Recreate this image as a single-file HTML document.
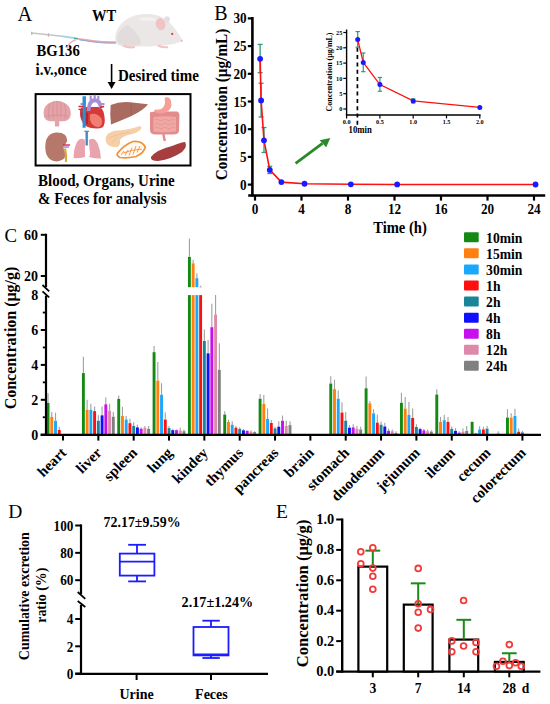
<!DOCTYPE html>
<html><head><meta charset="utf-8"><style>
html,body{margin:0;padding:0;background:#fff;}
svg{display:block;}
</style></head><body>
<svg width="550" height="704" viewBox="0 0 550 704" font-family="Liberation Serif">
<rect width="550" height="704" fill="#fff"/>
<text x="17.40" y="20.70" font-family="Liberation Serif" font-size="20.5" font-weight="normal" text-anchor="start" fill="#000" >A</text>
<text x="214.30" y="19.60" font-family="Liberation Serif" font-size="20" font-weight="normal" text-anchor="start" fill="#000" >B</text>
<text x="4.60" y="241.60" font-family="Liberation Serif" font-size="18.8" font-weight="normal" text-anchor="start" fill="#000" >C</text>
<text x="8.20" y="517.90" font-family="Liberation Serif" font-size="19.5" font-weight="normal" text-anchor="start" fill="#000" >D</text>
<text x="276.00" y="517.80" font-family="Liberation Serif" font-size="19.5" font-weight="normal" text-anchor="start" fill="#000" >E</text>
<text transform="translate(92.00,20.50) scale(1,1.08)" font-family="Liberation Serif" font-size="14.5" font-weight="bold" text-anchor="start" fill="#000" >WT</text>
<text transform="translate(36.50,56.30) scale(1,1.08)" font-family="Liberation Serif" font-size="14.7" font-weight="bold" text-anchor="start" fill="#000" >BG136</text>
<text transform="translate(35.50,74.50) scale(1,1.08)" font-family="Liberation Serif" font-size="15" font-weight="bold" text-anchor="start" fill="#000" >i.v.,once</text>
<text transform="translate(118.00,81.00) scale(1,1.08)" font-family="Liberation Serif" font-size="15" font-weight="bold" text-anchor="start" fill="#000" >Desired time</text>
<line x1="111.60" y1="64.00" x2="111.60" y2="83.00" stroke="#000" stroke-width="1.6" />
<path d="M107.6,82 L115.6,82 L111.6,89 Z" fill="#000"/>
<rect x="35.6" y="94.1" width="154.9" height="71.4" fill="none" stroke="#000" stroke-width="2"/>
<text transform="translate(38.10,186.00) scale(1,1.08)" font-family="Liberation Serif" font-size="15" font-weight="bold" text-anchor="start" fill="#000" >Blood, Organs, Urine</text>
<text transform="translate(38.10,204.40) scale(1,1.08)" font-family="Liberation Serif" font-size="15" font-weight="bold" text-anchor="start" fill="#000" >&amp; Feces for analysis</text>
<path d="M32,33 L62,36.3" stroke="#c4c4c4" stroke-width="1.6" stroke-linecap="round"/>
<line x1="31.60" y1="31.80" x2="31.90" y2="35.00" stroke="#b8b8b8" stroke-width="1.3" />
<line x1="48.60" y1="33.20" x2="48.40" y2="36.80" stroke="#b8b8b8" stroke-width="1.3" />
<path d="M62,36.3 L74,38.1" stroke="#a8d6e8" stroke-width="2.0"/>
<path d="M74,38.1 L78,38.7" stroke="#40b0a0" stroke-width="1.6"/>
<path d="M78,39 L95,41.2 Q105,42.6 116,42.2" stroke="#eaa8a8" stroke-width="1.9" fill="none"/>
<path d="M80,39.9 L95,42.2 Q105,43.5 116,43.1" stroke="#8aa0d8" stroke-width="0.9" fill="none"/>
<path d="M76,39.8 Q68.5,42 67.2,48.5" stroke="#ecb4b4" stroke-width="1.5" fill="none"/>
<path d="M116,43 C113,33 120,20 135,15.5 C146,12.5 158,14 165,19 C171,23 176,30 180,36 C182,39 183,40.5 181.5,41.5 C177,43.5 170,44.5 164,45.5 L150,46.5 L128,46.5 C120,46.5 117,45 116,43 Z" fill="#ebe7e7"/>
<path d="M117,42 C116,34 121,27 128,25 C134,30 140,36 141,44 C136,46.5 124,46.5 117,42 Z" fill="#e2dcdc"/>
<path d="M138,19 C146,16 156,17 160,22 C150,20 144,22 138,19 Z" fill="#f3f0f0"/>
<ellipse cx="167" cy="19.5" rx="2.8" ry="3.3" fill="#e4dfdf"/>
<ellipse cx="160.6" cy="24.2" rx="4.8" ry="6.2" transform="rotate(-15 160.6 24.2)" fill="#f0c4c4"/>
<circle cx="172.2" cy="33.9" r="1.1" fill="#e03a3a"/>
<path d="M123,45.5 Q128,48 135,47" stroke="#f2c4c4" stroke-width="2.2" fill="none"/>
<path d="M158,45.5 Q163,48 168,47" stroke="#f2c4c4" stroke-width="2" fill="none"/>
<circle cx="181.8" cy="40.8" r="1" fill="#f0b0b0"/>
<path d="M43.6,114 Q43,102.5 57,100.8 Q71,102.5 70.8,114 Q70.5,120.5 64,121.2 L59.2,121.2 L59.2,126.4 L54.9,126.4 L54.9,121.2 L50,121.2 Q43.8,120.5 43.6,114 Z" fill="#e3a3a8"/>
<path d="M50,103 Q47,111 49,119 M53.5,101.5 Q52,110 53.5,118 M57,101 L57,117 M60.5,101.5 Q62,110 60.5,118 M64,103 Q67,111 65,119 M46,116 Q57,114 68,116" stroke="#d28c94" stroke-width="0.7" fill="none"/>
<path d="M80,112 Q79.5,107.5 84,107 L100,107 Q104.5,110 104.8,120 Q105,127.5 100,128.3 Q90,129 85,125.5 Q79.5,120 80,112 Z" fill="#d63a38"/>
<path d="M90,114.5 Q96.5,112 101.5,118.5 Q103.5,125.5 98.5,127.3 Q92,126.5 90,120 Z" fill="#f07e72"/>
<path d="M81,113 Q84,109.5 88,113 L88,124.5 Q82,122 81,113 Z" fill="#b52628"/>
<path d="M86.8,111 Q87,98.5 95,98.3 Q102.5,99 102.2,108 L99,108.5 Q98.3,102.3 95,102.3 Q90.8,102.5 90.4,111 Z" fill="#a78fd8"/>
<rect x="89.6" y="95.5" width="2.2" height="5" fill="#a78fd8"/><rect x="93.6" y="94.8" width="2.2" height="5" fill="#a78fd8"/><rect x="97.2" y="95.8" width="2.2" height="5" fill="#a78fd8"/><rect x="99.5" y="103" width="5" height="2.2" fill="#a78fd8"/><rect x="80.5" y="103" width="4" height="2" fill="#a78fd8"/>
<path d="M82.5,96.3 L86,96.3 L85.6,127.8 L82.6,127.8 Z" fill="#2d8fd5"/>
<path d="M78.5,106.5 L83,106.5 M78.5,109.3 L83,109.3 M100,107.5 L104,106.5" stroke="#e02222" stroke-width="1.3"/>
<path d="M110.6,105 Q120,101.3 130,102.3 L148,104.2 Q144,110 130.4,116.5 Q120,121 111,124.4 Q109.8,115 110.6,105 Z" fill="#a96a60"/>
<path d="M131,103 L131.5,116" stroke="#955a52" stroke-width="0.5"/>
<path d="M149.9,113 Q150,111.5 155,111.5 L177,111.5 Q179.4,112 179.4,115 L179,131 Q178.5,134.6 173,134.6 L156,134.6 Q150,134.5 150,130 Z" fill="#e28c8e"/>
<path d="M153.5,117 Q164,115.5 176,117 L176,131.5 Q164,133 153.5,131.5 Z" fill="#efa8a4"/>
<path d="M155,120 q2,-2 4,0 t4,0 t4,0 t4,0 t4,0 M155,124 q2,-2 4,0 t4,0 t4,0 t4,0 t4,0 M155,128 q2,-2 4,0 t4,0 t4,0 t4,0 t4,0" stroke="#e2908e" stroke-width="0.7" fill="none"/>
<path d="M165.5,97.3 Q170,96.5 171,101 Q173,109 166,112.5 Q160,114.5 154.5,112 Q153.5,110 155.5,109.5 Q161,110.5 163.5,107 Q166,103 164.5,99 Z" fill="#f4a096"/>
<path d="M163.3,134 L164.8,141" stroke="#e28c8e" stroke-width="2.4"/>
<path d="M56,132.5 Q67.5,132 67.2,141 Q66,144 63.5,146 Q63,149 65,152 Q67.5,160 56.5,161.5 Q45.3,160.5 45.3,147 Q45.3,133.5 56,132.5 Z" fill="#b5786a"/>
<path d="M63,145 L70.1,145" stroke="#e0283a" stroke-width="1.4"/><path d="M63.5,147 L69,147" stroke="#8a70d0" stroke-width="1.2"/><path d="M65,148.5 Q66.5,155 66,161.8" stroke="#d8a840" stroke-width="2.2" fill="none"/>
<path d="M84.9,140 Q80,136.5 76.5,143 Q73.2,151 73.7,158 Q78,158.7 85,157 Z" fill="#e9a3ad"/>
<path d="M89,140 Q94,136.5 97.5,143 Q100.9,151 100.9,158.5 Q96,158.7 89,157 Q91,153 89.5,150 Z" fill="#e9a3ad"/>
<path d="M85.5,131.3 L87.9,131.3 L87.9,145.5 L85.5,145.5 Z" fill="#4a86c6"/><path d="M84.3,131.3 L89.1,131.3" stroke="#4a86c6" stroke-width="1.2"/>
<path d="M105.8,137 Q108,131 118,130.5 Q130,129.5 138,126.5 Q142.5,125.5 141,129 Q138,133 128,135 Q122,137 120,140 Q120.5,146 117,147 Q109,147.5 106.5,143 Q105.2,140 105.8,137 Z" fill="#f5cfa8"/>
<path d="M108,138 Q118,134 130,132 M112,143 Q114,139 118,137" stroke="#eab88e" stroke-width="0.6" fill="none"/>
<path d="M117.4,153.2 Q124,145 133,141.5 Q142,140.5 145.3,147 Q144,153 136,156.5 Q127,158.5 120,157.5 Q116.5,156 117.4,153.2 Z" fill="#fffaf4" stroke="#f0923a" stroke-width="1.7"/>
<path d="M121,155 L124,151 M125,155.5 L128,150 M129,155.5 L132,147.5 M133,154.5 L136,146 M137,152.5 L140,146 M123,153 Q131,150 142,149" stroke="#f0923a" stroke-width="0.9" fill="none"/>
<path d="M151,157 Q156,150 172,146 Q182,142 185,142 Q188,146 182,152 Q172,159 158,161 Q150,161 151,157 Z" fill="#a63d3e"/>
<line x1="252.40" y1="17.00" x2="252.40" y2="196.50" stroke="#000" stroke-width="2.6" />
<line x1="247.80" y1="184.60" x2="252.40" y2="184.60" stroke="#000" stroke-width="2.2" />
<text transform="translate(246.60,189.60) scale(1,1.12)" font-family="Liberation Serif" font-size="13.2" font-weight="bold" text-anchor="end" fill="#000" >0</text>
<line x1="247.80" y1="156.90" x2="252.40" y2="156.90" stroke="#000" stroke-width="2.2" />
<text transform="translate(246.60,161.90) scale(1,1.12)" font-family="Liberation Serif" font-size="13.2" font-weight="bold" text-anchor="end" fill="#000" >5</text>
<line x1="247.80" y1="129.20" x2="252.40" y2="129.20" stroke="#000" stroke-width="2.2" />
<text transform="translate(246.60,134.20) scale(1,1.12)" font-family="Liberation Serif" font-size="13.2" font-weight="bold" text-anchor="end" fill="#000" >10</text>
<line x1="247.80" y1="101.50" x2="252.40" y2="101.50" stroke="#000" stroke-width="2.2" />
<text transform="translate(246.60,106.50) scale(1,1.12)" font-family="Liberation Serif" font-size="13.2" font-weight="bold" text-anchor="end" fill="#000" >15</text>
<line x1="247.80" y1="73.80" x2="252.40" y2="73.80" stroke="#000" stroke-width="2.2" />
<text transform="translate(246.60,78.80) scale(1,1.12)" font-family="Liberation Serif" font-size="13.2" font-weight="bold" text-anchor="end" fill="#000" >20</text>
<line x1="247.80" y1="46.10" x2="252.40" y2="46.10" stroke="#000" stroke-width="2.2" />
<text transform="translate(246.60,51.10) scale(1,1.12)" font-family="Liberation Serif" font-size="13.2" font-weight="bold" text-anchor="end" fill="#000" >25</text>
<line x1="247.80" y1="18.40" x2="252.40" y2="18.40" stroke="#000" stroke-width="2.2" />
<text transform="translate(246.60,23.40) scale(1,1.12)" font-family="Liberation Serif" font-size="13.2" font-weight="bold" text-anchor="end" fill="#000" >30</text>
<line x1="248.20" y1="195.50" x2="545.20" y2="195.50" stroke="#000" stroke-width="2.6" />
<line x1="255.00" y1="195.50" x2="255.00" y2="200.60" stroke="#000" stroke-width="2.2" />
<text transform="translate(255.00,214.40) scale(1,1.12)" font-family="Liberation Serif" font-size="13.2" font-weight="bold" text-anchor="middle" fill="#000" >0</text>
<line x1="301.50" y1="195.50" x2="301.50" y2="200.60" stroke="#000" stroke-width="2.2" />
<text transform="translate(301.50,214.40) scale(1,1.12)" font-family="Liberation Serif" font-size="13.2" font-weight="bold" text-anchor="middle" fill="#000" >4</text>
<line x1="348.00" y1="195.50" x2="348.00" y2="200.60" stroke="#000" stroke-width="2.2" />
<text transform="translate(348.00,214.40) scale(1,1.12)" font-family="Liberation Serif" font-size="13.2" font-weight="bold" text-anchor="middle" fill="#000" >8</text>
<line x1="394.50" y1="195.50" x2="394.50" y2="200.60" stroke="#000" stroke-width="2.2" />
<text transform="translate(394.50,214.40) scale(1,1.12)" font-family="Liberation Serif" font-size="13.2" font-weight="bold" text-anchor="middle" fill="#000" >12</text>
<line x1="441.00" y1="195.50" x2="441.00" y2="200.60" stroke="#000" stroke-width="2.2" />
<text transform="translate(441.00,214.40) scale(1,1.12)" font-family="Liberation Serif" font-size="13.2" font-weight="bold" text-anchor="middle" fill="#000" >16</text>
<line x1="487.50" y1="195.50" x2="487.50" y2="200.60" stroke="#000" stroke-width="2.2" />
<text transform="translate(487.50,214.40) scale(1,1.12)" font-family="Liberation Serif" font-size="13.2" font-weight="bold" text-anchor="middle" fill="#000" >20</text>
<line x1="534.00" y1="195.50" x2="534.00" y2="200.60" stroke="#000" stroke-width="2.2" />
<text transform="translate(534.00,214.40) scale(1,1.12)" font-family="Liberation Serif" font-size="13.2" font-weight="bold" text-anchor="middle" fill="#000" >24</text>
<text transform="translate(400.00,233.20) scale(1,1.08)" font-family="Liberation Serif" font-size="14.6" font-weight="bold" text-anchor="middle" fill="#000" >Time (h)</text>
<text transform="translate(227.2,104.4) rotate(-90)" font-family="Liberation Serif" font-size="16.2" font-weight="bold" text-anchor="middle" textLength="151.6" lengthAdjust="spacingAndGlyphs">Concentration (μg/mL)</text>
<line x1="260.13" y1="72.69" x2="260.13" y2="44.44" stroke="#2e9a80" stroke-width="1.3" />
<line x1="257.63" y1="72.69" x2="262.63" y2="72.69" stroke="#2e9a80" stroke-width="1.3" />
<line x1="257.63" y1="44.44" x2="262.63" y2="44.44" stroke="#2e9a80" stroke-width="1.3" />
<line x1="261.09" y1="117.01" x2="261.09" y2="83.22" stroke="#2e9a80" stroke-width="1.3" />
<line x1="258.59" y1="117.01" x2="263.59" y2="117.01" stroke="#2e9a80" stroke-width="1.3" />
<line x1="258.59" y1="83.22" x2="263.59" y2="83.22" stroke="#2e9a80" stroke-width="1.3" />
<line x1="263.99" y1="152.47" x2="263.99" y2="127.54" stroke="#2e9a80" stroke-width="1.3" />
<line x1="261.49" y1="152.47" x2="266.49" y2="152.47" stroke="#2e9a80" stroke-width="1.3" />
<line x1="261.49" y1="127.54" x2="266.49" y2="127.54" stroke="#2e9a80" stroke-width="1.3" />
<line x1="269.78" y1="173.52" x2="269.78" y2="166.32" stroke="#2e9a80" stroke-width="1.3" />
<line x1="267.28" y1="173.52" x2="272.28" y2="173.52" stroke="#2e9a80" stroke-width="1.3" />
<line x1="267.28" y1="166.32" x2="272.28" y2="166.32" stroke="#2e9a80" stroke-width="1.3" />
<path d="M260.13,58.84 L261.09,100.39 L263.99,140.28 L269.78,169.92 L281.36,182.11 L304.52,183.77 L350.84,184.32 L397.16,184.43 L535.54,184.49" stroke="#ff1010" stroke-width="1.6" fill="none"/>
<circle cx="260.13" cy="58.84" r="2.9" fill="#1a1aff"/>
<circle cx="261.09" cy="100.39" r="2.9" fill="#1a1aff"/>
<circle cx="263.99" cy="140.28" r="2.9" fill="#1a1aff"/>
<circle cx="269.78" cy="169.92" r="2.9" fill="#1a1aff"/>
<circle cx="281.36" cy="182.11" r="2.9" fill="#1a1aff"/>
<circle cx="304.52" cy="183.77" r="2.9" fill="#1a1aff"/>
<circle cx="350.84" cy="184.32" r="2.9" fill="#1a1aff"/>
<circle cx="397.16" cy="184.43" r="2.9" fill="#1a1aff"/>
<circle cx="535.54" cy="184.49" r="2.9" fill="#1a1aff"/>
<line x1="346.60" y1="29.50" x2="346.60" y2="115.60" stroke="#000" stroke-width="1.4" />
<line x1="343.30" y1="109.00" x2="346.60" y2="109.00" stroke="#000" stroke-width="1.2" />
<text transform="translate(342.30,111.20) scale(1,1.08)" font-family="Liberation Serif" font-size="6.2" font-weight="bold" text-anchor="end" fill="#000" >0</text>
<line x1="343.30" y1="93.70" x2="346.60" y2="93.70" stroke="#000" stroke-width="1.2" />
<text transform="translate(342.30,95.90) scale(1,1.08)" font-family="Liberation Serif" font-size="6.2" font-weight="bold" text-anchor="end" fill="#000" >5</text>
<line x1="343.30" y1="78.40" x2="346.60" y2="78.40" stroke="#000" stroke-width="1.2" />
<text transform="translate(342.30,80.60) scale(1,1.08)" font-family="Liberation Serif" font-size="6.2" font-weight="bold" text-anchor="end" fill="#000" >10</text>
<line x1="343.30" y1="63.10" x2="346.60" y2="63.10" stroke="#000" stroke-width="1.2" />
<text transform="translate(342.30,65.30) scale(1,1.08)" font-family="Liberation Serif" font-size="6.2" font-weight="bold" text-anchor="end" fill="#000" >15</text>
<line x1="343.30" y1="47.80" x2="346.60" y2="47.80" stroke="#000" stroke-width="1.2" />
<text transform="translate(342.30,50.00) scale(1,1.08)" font-family="Liberation Serif" font-size="6.2" font-weight="bold" text-anchor="end" fill="#000" >20</text>
<line x1="343.30" y1="32.50" x2="346.60" y2="32.50" stroke="#000" stroke-width="1.2" />
<text transform="translate(342.30,34.70) scale(1,1.08)" font-family="Liberation Serif" font-size="6.2" font-weight="bold" text-anchor="end" fill="#000" >25</text>
<line x1="345.90" y1="115.00" x2="480.60" y2="115.00" stroke="#000" stroke-width="1.4" />
<line x1="346.60" y1="115.20" x2="346.60" y2="118.40" stroke="#000" stroke-width="1.2" />
<text transform="translate(346.60,123.80) scale(1,1.08)" font-family="Liberation Serif" font-size="6.2" font-weight="bold" text-anchor="middle" fill="#000" >0.0</text>
<line x1="379.90" y1="115.20" x2="379.90" y2="118.40" stroke="#000" stroke-width="1.2" />
<text transform="translate(379.90,123.80) scale(1,1.08)" font-family="Liberation Serif" font-size="6.2" font-weight="bold" text-anchor="middle" fill="#000" >0.5</text>
<line x1="413.20" y1="115.20" x2="413.20" y2="118.40" stroke="#000" stroke-width="1.2" />
<text transform="translate(413.20,123.80) scale(1,1.08)" font-family="Liberation Serif" font-size="6.2" font-weight="bold" text-anchor="middle" fill="#000" >1.0</text>
<line x1="446.50" y1="115.20" x2="446.50" y2="118.40" stroke="#000" stroke-width="1.2" />
<text transform="translate(446.50,123.80) scale(1,1.08)" font-family="Liberation Serif" font-size="6.2" font-weight="bold" text-anchor="middle" fill="#000" >1.5</text>
<line x1="479.80" y1="115.20" x2="479.80" y2="118.40" stroke="#000" stroke-width="1.2" />
<text transform="translate(479.80,123.80) scale(1,1.08)" font-family="Liberation Serif" font-size="6.2" font-weight="bold" text-anchor="middle" fill="#000" >2.0</text>
<line x1="357.4" y1="47.8" x2="357.4" y2="124.8" stroke="#000" stroke-width="1.7" stroke-dasharray="4,3.3"/>
<text transform="translate(348.60,132.80) scale(1,1.08)" font-family="Liberation Serif" font-size="8.7" font-weight="bold" text-anchor="start" fill="#000" >10min</text>
<text transform="translate(331.6,72) rotate(-90)" font-family="Liberation Serif" font-size="8.3" font-weight="bold" text-anchor="middle" textLength="79" lengthAdjust="spacingAndGlyphs">Concentration (μg/mL)</text>
<line x1="357.70" y1="47.19" x2="357.70" y2="31.58" stroke="#2e9a80" stroke-width="1.2" />
<line x1="355.50" y1="47.19" x2="359.90" y2="47.19" stroke="#2e9a80" stroke-width="1.2" />
<line x1="355.50" y1="31.58" x2="359.90" y2="31.58" stroke="#2e9a80" stroke-width="1.2" />
<line x1="363.25" y1="71.67" x2="363.25" y2="53.00" stroke="#2e9a80" stroke-width="1.2" />
<line x1="361.05" y1="71.67" x2="365.45" y2="71.67" stroke="#2e9a80" stroke-width="1.2" />
<line x1="361.05" y1="53.00" x2="365.45" y2="53.00" stroke="#2e9a80" stroke-width="1.2" />
<line x1="379.90" y1="91.25" x2="379.90" y2="77.48" stroke="#2e9a80" stroke-width="1.2" />
<line x1="377.70" y1="91.25" x2="382.10" y2="91.25" stroke="#2e9a80" stroke-width="1.2" />
<line x1="377.70" y1="77.48" x2="382.10" y2="77.48" stroke="#2e9a80" stroke-width="1.2" />
<line x1="413.20" y1="102.88" x2="413.20" y2="98.90" stroke="#2e9a80" stroke-width="1.2" />
<line x1="411.00" y1="102.88" x2="415.40" y2="102.88" stroke="#2e9a80" stroke-width="1.2" />
<line x1="411.00" y1="98.90" x2="415.40" y2="98.90" stroke="#2e9a80" stroke-width="1.2" />
<path d="M357.70,39.54 L363.25,62.49 L379.90,84.52 L413.20,100.89 L479.80,107.47" stroke="#ff1010" stroke-width="1.3" fill="none"/>
<circle cx="357.70" cy="39.54" r="2.5" fill="#1a1aff"/>
<circle cx="363.25" cy="62.49" r="2.5" fill="#1a1aff"/>
<circle cx="379.90" cy="84.52" r="2.5" fill="#1a1aff"/>
<circle cx="413.20" cy="100.89" r="2.5" fill="#1a1aff"/>
<circle cx="479.80" cy="107.47" r="2.5" fill="#1a1aff"/>
<path d="M295.6,163.4 L322.5,143.4" stroke="#2a8a2a" stroke-width="2.8"/>
<path d="M330.3,138 L319.6,140.2 L326.2,147.2 Z" fill="#2a8a2a"/>
<line x1="48.04" y1="393.17" x2="48.04" y2="402.94" stroke="#a0a0a0" stroke-width="1.1" />
<rect x="46.59" y="402.94" width="2.90" height="31.76" fill="#148a14" />
<line x1="51.78" y1="412.01" x2="51.78" y2="416.90" stroke="#a0a0a0" stroke-width="1.1" />
<rect x="50.33" y="416.90" width="2.90" height="17.80" fill="#ff8010" />
<line x1="55.52" y1="412.71" x2="55.52" y2="420.74" stroke="#a0a0a0" stroke-width="1.1" />
<rect x="54.07" y="420.74" width="2.90" height="13.96" fill="#1aa8ff" />
<line x1="59.26" y1="426.85" x2="59.26" y2="429.99" stroke="#a0a0a0" stroke-width="1.1" />
<rect x="57.81" y="429.99" width="2.90" height="4.71" fill="#ff1010" />
<line x1="83.38" y1="356.87" x2="83.38" y2="373.10" stroke="#a0a0a0" stroke-width="1.1" />
<rect x="81.93" y="373.10" width="2.90" height="61.60" fill="#148a14" />
<line x1="87.12" y1="399.80" x2="87.12" y2="409.75" stroke="#a0a0a0" stroke-width="1.1" />
<rect x="85.67" y="409.75" width="2.90" height="24.95" fill="#ff8010" />
<line x1="90.86" y1="403.81" x2="90.86" y2="409.92" stroke="#a0a0a0" stroke-width="1.1" />
<rect x="89.41" y="409.92" width="2.90" height="24.78" fill="#1aa8ff" />
<line x1="94.60" y1="406.43" x2="94.60" y2="411.14" stroke="#a0a0a0" stroke-width="1.1" />
<rect x="93.15" y="411.14" width="2.90" height="23.56" fill="#ff1010" />
<line x1="98.34" y1="415.16" x2="98.34" y2="420.74" stroke="#a0a0a0" stroke-width="1.1" />
<rect x="96.89" y="420.74" width="2.90" height="13.96" fill="#1a8598" />
<line x1="102.08" y1="406.61" x2="102.08" y2="415.33" stroke="#a0a0a0" stroke-width="1.1" />
<rect x="100.63" y="415.33" width="2.90" height="19.37" fill="#1010ff" />
<line x1="105.82" y1="397.53" x2="105.82" y2="404.34" stroke="#a0a0a0" stroke-width="1.1" />
<rect x="104.37" y="404.34" width="2.90" height="30.36" fill="#c810ee" />
<line x1="109.56" y1="403.81" x2="109.56" y2="410.79" stroke="#a0a0a0" stroke-width="1.1" />
<rect x="108.11" y="410.79" width="2.90" height="23.91" fill="#de88aa" />
<line x1="113.30" y1="412.01" x2="113.30" y2="416.73" stroke="#a0a0a0" stroke-width="1.1" />
<rect x="111.85" y="416.73" width="2.90" height="17.97" fill="#808080" />
<line x1="118.72" y1="395.44" x2="118.72" y2="398.93" stroke="#a0a0a0" stroke-width="1.1" />
<rect x="117.27" y="398.93" width="2.90" height="35.77" fill="#148a14" />
<line x1="122.46" y1="406.78" x2="122.46" y2="416.03" stroke="#a0a0a0" stroke-width="1.1" />
<rect x="121.01" y="416.03" width="2.90" height="18.67" fill="#ff8010" />
<line x1="126.20" y1="416.03" x2="126.20" y2="419.52" stroke="#a0a0a0" stroke-width="1.1" />
<rect x="124.75" y="419.52" width="2.90" height="15.18" fill="#1aa8ff" />
<line x1="129.94" y1="418.82" x2="129.94" y2="423.18" stroke="#a0a0a0" stroke-width="1.1" />
<rect x="128.49" y="423.18" width="2.90" height="11.52" fill="#ff1010" />
<line x1="133.68" y1="422.14" x2="133.68" y2="425.97" stroke="#a0a0a0" stroke-width="1.1" />
<rect x="132.23" y="425.97" width="2.90" height="8.73" fill="#1a8598" />
<line x1="137.42" y1="424.75" x2="137.42" y2="427.37" stroke="#a0a0a0" stroke-width="1.1" />
<rect x="135.97" y="427.37" width="2.90" height="7.33" fill="#1010ff" />
<line x1="141.16" y1="427.37" x2="141.16" y2="428.77" stroke="#a0a0a0" stroke-width="1.1" />
<rect x="139.71" y="428.77" width="2.90" height="5.93" fill="#c810ee" />
<line x1="144.90" y1="425.97" x2="144.90" y2="427.72" stroke="#a0a0a0" stroke-width="1.1" />
<rect x="143.45" y="427.72" width="2.90" height="6.98" fill="#de88aa" />
<line x1="148.64" y1="425.97" x2="148.64" y2="428.77" stroke="#a0a0a0" stroke-width="1.1" />
<rect x="147.19" y="428.77" width="2.90" height="5.93" fill="#808080" />
<line x1="154.06" y1="346.05" x2="154.06" y2="352.16" stroke="#a0a0a0" stroke-width="1.1" />
<rect x="152.61" y="352.16" width="2.90" height="82.54" fill="#148a14" />
<line x1="157.80" y1="361.93" x2="157.80" y2="380.61" stroke="#a0a0a0" stroke-width="1.1" />
<rect x="156.35" y="380.61" width="2.90" height="54.09" fill="#ff8010" />
<line x1="161.54" y1="383.22" x2="161.54" y2="394.74" stroke="#a0a0a0" stroke-width="1.1" />
<rect x="160.09" y="394.74" width="2.90" height="39.96" fill="#1aa8ff" />
<line x1="165.28" y1="412.36" x2="165.28" y2="419.52" stroke="#a0a0a0" stroke-width="1.1" />
<rect x="163.83" y="419.52" width="2.90" height="15.18" fill="#ff1010" />
<line x1="169.02" y1="425.97" x2="169.02" y2="428.07" stroke="#a0a0a0" stroke-width="1.1" />
<rect x="167.57" y="428.07" width="2.90" height="6.63" fill="#1a8598" />
<line x1="172.76" y1="428.94" x2="172.76" y2="430.16" stroke="#a0a0a0" stroke-width="1.1" />
<rect x="171.31" y="430.16" width="2.90" height="4.54" fill="#1010ff" />
<line x1="176.50" y1="429.46" x2="176.50" y2="430.16" stroke="#a0a0a0" stroke-width="1.1" />
<rect x="175.05" y="430.16" width="2.90" height="4.54" fill="#c810ee" />
<line x1="180.24" y1="427.72" x2="180.24" y2="430.34" stroke="#a0a0a0" stroke-width="1.1" />
<rect x="178.79" y="430.34" width="2.90" height="4.36" fill="#de88aa" />
<line x1="183.98" y1="429.46" x2="183.98" y2="431.21" stroke="#a0a0a0" stroke-width="1.1" />
<rect x="182.53" y="431.21" width="2.90" height="3.49" fill="#808080" />
<rect x="187.95" y="295.10" width="2.90" height="139.60" fill="#148a14" />
<line x1="189.40" y1="238.41" x2="189.40" y2="256.84" stroke="#a0a0a0" stroke-width="1.1" />
<rect x="187.95" y="256.84" width="2.90" height="30.36" fill="#148a14" />
<rect x="191.69" y="295.10" width="2.90" height="139.60" fill="#ff8010" />
<line x1="193.14" y1="259.83" x2="193.14" y2="263.33" stroke="#a0a0a0" stroke-width="1.1" />
<rect x="191.69" y="263.33" width="2.90" height="23.87" fill="#ff8010" />
<rect x="195.43" y="295.10" width="2.90" height="139.60" fill="#1aa8ff" />
<line x1="196.88" y1="273.22" x2="196.88" y2="278.16" stroke="#a0a0a0" stroke-width="1.1" />
<rect x="195.43" y="278.16" width="2.90" height="9.04" fill="#1aa8ff" />
<rect x="199.17" y="295.10" width="2.90" height="139.60" fill="#ff1010" />
<line x1="200.62" y1="285.79" x2="200.62" y2="287.02" stroke="#a0a0a0" stroke-width="1.1" />
<rect x="199.17" y="287.02" width="2.90" height="0.18" fill="#ff1010" />
<line x1="204.36" y1="329.48" x2="204.36" y2="340.99" stroke="#a0a0a0" stroke-width="1.1" />
<rect x="202.91" y="340.99" width="2.90" height="93.71" fill="#1a8598" />
<line x1="208.10" y1="339.95" x2="208.10" y2="353.38" stroke="#a0a0a0" stroke-width="1.1" />
<rect x="206.65" y="353.38" width="2.90" height="81.32" fill="#1010ff" />
<line x1="211.84" y1="303.82" x2="211.84" y2="327.21" stroke="#a0a0a0" stroke-width="1.1" />
<rect x="210.39" y="327.21" width="2.90" height="107.49" fill="#c810ee" />
<line x1="215.58" y1="295.10" x2="215.58" y2="314.47" stroke="#a0a0a0" stroke-width="1.1" />
<rect x="214.13" y="314.47" width="2.90" height="120.23" fill="#de88aa" />
<line x1="219.32" y1="343.26" x2="219.32" y2="369.79" stroke="#a0a0a0" stroke-width="1.1" />
<rect x="217.87" y="369.79" width="2.90" height="64.91" fill="#808080" />
<line x1="224.74" y1="411.14" x2="224.74" y2="414.63" stroke="#a0a0a0" stroke-width="1.1" />
<rect x="223.29" y="414.63" width="2.90" height="20.07" fill="#148a14" />
<line x1="228.48" y1="419.69" x2="228.48" y2="421.96" stroke="#a0a0a0" stroke-width="1.1" />
<rect x="227.03" y="421.96" width="2.90" height="12.74" fill="#ff8010" />
<line x1="232.22" y1="421.26" x2="232.22" y2="424.75" stroke="#a0a0a0" stroke-width="1.1" />
<rect x="230.77" y="424.75" width="2.90" height="9.95" fill="#1aa8ff" />
<line x1="235.96" y1="425.97" x2="235.96" y2="427.72" stroke="#a0a0a0" stroke-width="1.1" />
<rect x="234.51" y="427.72" width="2.90" height="6.98" fill="#ff1010" />
<line x1="239.70" y1="427.37" x2="239.70" y2="428.94" stroke="#a0a0a0" stroke-width="1.1" />
<rect x="238.25" y="428.94" width="2.90" height="5.76" fill="#1a8598" />
<line x1="243.44" y1="429.12" x2="243.44" y2="430.34" stroke="#a0a0a0" stroke-width="1.1" />
<rect x="241.99" y="430.34" width="2.90" height="4.36" fill="#1010ff" />
<line x1="247.18" y1="430.16" x2="247.18" y2="430.86" stroke="#a0a0a0" stroke-width="1.1" />
<rect x="245.73" y="430.86" width="2.90" height="3.84" fill="#c810ee" />
<line x1="250.92" y1="430.34" x2="250.92" y2="431.56" stroke="#a0a0a0" stroke-width="1.1" />
<rect x="249.47" y="431.56" width="2.90" height="3.14" fill="#de88aa" />
<line x1="254.66" y1="431.21" x2="254.66" y2="432.08" stroke="#a0a0a0" stroke-width="1.1" />
<rect x="253.21" y="432.08" width="2.90" height="2.62" fill="#808080" />
<line x1="260.08" y1="394.04" x2="260.08" y2="398.75" stroke="#a0a0a0" stroke-width="1.1" />
<rect x="258.63" y="398.75" width="2.90" height="35.95" fill="#148a14" />
<line x1="263.82" y1="395.09" x2="263.82" y2="403.99" stroke="#a0a0a0" stroke-width="1.1" />
<rect x="262.37" y="403.99" width="2.90" height="30.71" fill="#ff8010" />
<line x1="267.56" y1="408.52" x2="267.56" y2="418.82" stroke="#a0a0a0" stroke-width="1.1" />
<rect x="266.11" y="418.82" width="2.90" height="15.88" fill="#1aa8ff" />
<line x1="271.30" y1="420.04" x2="271.30" y2="423.01" stroke="#a0a0a0" stroke-width="1.1" />
<rect x="269.85" y="423.01" width="2.90" height="11.69" fill="#ff1010" />
<line x1="275.04" y1="426.67" x2="275.04" y2="428.42" stroke="#a0a0a0" stroke-width="1.1" />
<rect x="273.59" y="428.42" width="2.90" height="6.28" fill="#1a8598" />
<line x1="278.78" y1="421.26" x2="278.78" y2="426.67" stroke="#a0a0a0" stroke-width="1.1" />
<rect x="277.33" y="426.67" width="2.90" height="8.03" fill="#1010ff" />
<line x1="282.52" y1="415.50" x2="282.52" y2="420.74" stroke="#a0a0a0" stroke-width="1.1" />
<rect x="281.07" y="420.74" width="2.90" height="13.96" fill="#c810ee" />
<line x1="286.26" y1="420.74" x2="286.26" y2="425.97" stroke="#a0a0a0" stroke-width="1.1" />
<rect x="284.81" y="425.97" width="2.90" height="8.73" fill="#de88aa" />
<line x1="290.00" y1="421.26" x2="290.00" y2="425.10" stroke="#a0a0a0" stroke-width="1.1" />
<rect x="288.55" y="425.10" width="2.90" height="9.60" fill="#808080" />
<line x1="330.76" y1="376.24" x2="330.76" y2="383.57" stroke="#a0a0a0" stroke-width="1.1" />
<rect x="329.31" y="383.57" width="2.90" height="51.13" fill="#148a14" />
<line x1="334.50" y1="379.73" x2="334.50" y2="389.16" stroke="#a0a0a0" stroke-width="1.1" />
<rect x="333.05" y="389.16" width="2.90" height="45.54" fill="#ff8010" />
<line x1="338.24" y1="390.38" x2="338.24" y2="398.75" stroke="#a0a0a0" stroke-width="1.1" />
<rect x="336.79" y="398.75" width="2.90" height="35.95" fill="#1aa8ff" />
<line x1="341.98" y1="402.24" x2="341.98" y2="412.54" stroke="#a0a0a0" stroke-width="1.1" />
<rect x="340.53" y="412.54" width="2.90" height="22.16" fill="#ff1010" />
<line x1="345.72" y1="412.01" x2="345.72" y2="420.74" stroke="#a0a0a0" stroke-width="1.1" />
<rect x="344.27" y="420.74" width="2.90" height="13.96" fill="#1a8598" />
<line x1="349.46" y1="425.10" x2="349.46" y2="427.72" stroke="#a0a0a0" stroke-width="1.1" />
<rect x="348.01" y="427.72" width="2.90" height="6.98" fill="#1010ff" />
<line x1="353.20" y1="424.23" x2="353.20" y2="427.37" stroke="#a0a0a0" stroke-width="1.1" />
<rect x="351.75" y="427.37" width="2.90" height="7.33" fill="#c810ee" />
<line x1="356.94" y1="425.97" x2="356.94" y2="428.59" stroke="#a0a0a0" stroke-width="1.1" />
<rect x="355.49" y="428.59" width="2.90" height="6.11" fill="#de88aa" />
<line x1="360.68" y1="426.85" x2="360.68" y2="429.46" stroke="#a0a0a0" stroke-width="1.1" />
<rect x="359.23" y="429.46" width="2.90" height="5.24" fill="#808080" />
<line x1="366.10" y1="376.42" x2="366.10" y2="388.28" stroke="#a0a0a0" stroke-width="1.1" />
<rect x="364.65" y="388.28" width="2.90" height="46.42" fill="#148a14" />
<line x1="369.84" y1="401.02" x2="369.84" y2="403.29" stroke="#a0a0a0" stroke-width="1.1" />
<rect x="368.39" y="403.29" width="2.90" height="31.41" fill="#ff8010" />
<line x1="373.58" y1="409.22" x2="373.58" y2="413.41" stroke="#a0a0a0" stroke-width="1.1" />
<rect x="372.13" y="413.41" width="2.90" height="21.29" fill="#1aa8ff" />
<line x1="377.32" y1="414.46" x2="377.32" y2="422.66" stroke="#a0a0a0" stroke-width="1.1" />
<rect x="375.87" y="422.66" width="2.90" height="12.04" fill="#ff1010" />
<line x1="381.06" y1="421.61" x2="381.06" y2="424.75" stroke="#a0a0a0" stroke-width="1.1" />
<rect x="379.61" y="424.75" width="2.90" height="9.95" fill="#1a8598" />
<line x1="384.80" y1="422.66" x2="384.80" y2="426.50" stroke="#a0a0a0" stroke-width="1.1" />
<rect x="383.35" y="426.50" width="2.90" height="8.20" fill="#1010ff" />
<line x1="388.54" y1="428.59" x2="388.54" y2="430.86" stroke="#a0a0a0" stroke-width="1.1" />
<rect x="387.09" y="430.86" width="2.90" height="3.84" fill="#c810ee" />
<line x1="392.28" y1="429.46" x2="392.28" y2="431.21" stroke="#a0a0a0" stroke-width="1.1" />
<rect x="390.83" y="431.21" width="2.90" height="3.49" fill="#de88aa" />
<line x1="396.02" y1="431.21" x2="396.02" y2="432.95" stroke="#a0a0a0" stroke-width="1.1" />
<rect x="394.57" y="432.95" width="2.90" height="1.75" fill="#808080" />
<line x1="401.44" y1="392.82" x2="401.44" y2="402.77" stroke="#a0a0a0" stroke-width="1.1" />
<rect x="399.99" y="402.77" width="2.90" height="31.93" fill="#148a14" />
<line x1="405.18" y1="397.01" x2="405.18" y2="408.52" stroke="#a0a0a0" stroke-width="1.1" />
<rect x="403.73" y="408.52" width="2.90" height="26.18" fill="#ff8010" />
<line x1="408.92" y1="401.89" x2="408.92" y2="414.98" stroke="#a0a0a0" stroke-width="1.1" />
<rect x="407.47" y="414.98" width="2.90" height="19.72" fill="#1aa8ff" />
<line x1="412.66" y1="408.52" x2="412.66" y2="417.95" stroke="#a0a0a0" stroke-width="1.1" />
<rect x="411.21" y="417.95" width="2.90" height="16.75" fill="#ff1010" />
<line x1="416.40" y1="424.23" x2="416.40" y2="427.02" stroke="#a0a0a0" stroke-width="1.1" />
<rect x="414.95" y="427.02" width="2.90" height="7.68" fill="#1a8598" />
<line x1="420.14" y1="427.72" x2="420.14" y2="429.12" stroke="#a0a0a0" stroke-width="1.1" />
<rect x="418.69" y="429.12" width="2.90" height="5.58" fill="#1010ff" />
<line x1="423.88" y1="428.94" x2="423.88" y2="430.34" stroke="#a0a0a0" stroke-width="1.1" />
<rect x="422.43" y="430.34" width="2.90" height="4.36" fill="#c810ee" />
<line x1="427.62" y1="429.46" x2="427.62" y2="431.21" stroke="#a0a0a0" stroke-width="1.1" />
<rect x="426.17" y="431.21" width="2.90" height="3.49" fill="#de88aa" />
<line x1="431.36" y1="430.34" x2="431.36" y2="431.56" stroke="#a0a0a0" stroke-width="1.1" />
<rect x="429.91" y="431.56" width="2.90" height="3.14" fill="#808080" />
<line x1="436.78" y1="389.33" x2="436.78" y2="394.56" stroke="#a0a0a0" stroke-width="1.1" />
<rect x="435.33" y="394.56" width="2.90" height="40.13" fill="#148a14" />
<line x1="440.52" y1="416.90" x2="440.52" y2="421.96" stroke="#a0a0a0" stroke-width="1.1" />
<rect x="439.07" y="421.96" width="2.90" height="12.74" fill="#ff8010" />
<line x1="444.26" y1="414.81" x2="444.26" y2="420.22" stroke="#a0a0a0" stroke-width="1.1" />
<rect x="442.81" y="420.22" width="2.90" height="14.48" fill="#1aa8ff" />
<line x1="448.00" y1="416.90" x2="448.00" y2="421.96" stroke="#a0a0a0" stroke-width="1.1" />
<rect x="446.55" y="421.96" width="2.90" height="12.74" fill="#ff1010" />
<line x1="451.74" y1="426.50" x2="451.74" y2="428.94" stroke="#a0a0a0" stroke-width="1.1" />
<rect x="450.29" y="428.94" width="2.90" height="5.76" fill="#1a8598" />
<line x1="455.48" y1="428.07" x2="455.48" y2="430.86" stroke="#a0a0a0" stroke-width="1.1" />
<rect x="454.03" y="430.86" width="2.90" height="3.84" fill="#1010ff" />
<line x1="459.22" y1="431.21" x2="459.22" y2="432.61" stroke="#a0a0a0" stroke-width="1.1" />
<rect x="457.77" y="432.61" width="2.90" height="2.09" fill="#c810ee" />
<line x1="462.96" y1="428.42" x2="462.96" y2="431.73" stroke="#a0a0a0" stroke-width="1.1" />
<rect x="461.51" y="431.73" width="2.90" height="2.97" fill="#de88aa" />
<line x1="466.70" y1="425.97" x2="466.70" y2="430.86" stroke="#a0a0a0" stroke-width="1.1" />
<rect x="465.25" y="430.86" width="2.90" height="3.84" fill="#808080" />
<rect x="470.67" y="421.79" width="2.90" height="12.91" fill="#148a14" />
<rect x="474.41" y="432.95" width="2.90" height="1.75" fill="#ff8010" />
<line x1="479.60" y1="426.32" x2="479.60" y2="429.46" stroke="#a0a0a0" stroke-width="1.1" />
<rect x="478.15" y="429.46" width="2.90" height="5.24" fill="#1aa8ff" />
<line x1="483.34" y1="426.85" x2="483.34" y2="429.46" stroke="#a0a0a0" stroke-width="1.1" />
<rect x="481.89" y="429.46" width="2.90" height="5.24" fill="#ff1010" />
<line x1="487.08" y1="425.97" x2="487.08" y2="428.59" stroke="#a0a0a0" stroke-width="1.1" />
<rect x="485.63" y="428.59" width="2.90" height="6.11" fill="#1a8598" />
<line x1="498.30" y1="431.21" x2="498.30" y2="433.30" stroke="#a0a0a0" stroke-width="1.1" />
<rect x="496.85" y="433.30" width="2.90" height="1.40" fill="#de88aa" />
<line x1="507.46" y1="409.22" x2="507.46" y2="417.60" stroke="#a0a0a0" stroke-width="1.1" />
<rect x="506.01" y="417.60" width="2.90" height="17.10" fill="#148a14" />
<line x1="511.20" y1="413.24" x2="511.20" y2="417.60" stroke="#a0a0a0" stroke-width="1.1" />
<rect x="509.75" y="417.60" width="2.90" height="17.10" fill="#ff8010" />
<line x1="514.94" y1="408.87" x2="514.94" y2="415.85" stroke="#a0a0a0" stroke-width="1.1" />
<rect x="513.49" y="415.85" width="2.90" height="18.85" fill="#1aa8ff" />
<line x1="518.68" y1="428.42" x2="518.68" y2="431.73" stroke="#a0a0a0" stroke-width="1.1" />
<rect x="517.23" y="431.73" width="2.90" height="2.97" fill="#ff1010" />
<line x1="522.42" y1="430.86" x2="522.42" y2="432.43" stroke="#a0a0a0" stroke-width="1.1" />
<rect x="520.97" y="432.43" width="2.90" height="2.27" fill="#1a8598" />
<line x1="526.16" y1="433.83" x2="526.16" y2="434.35" stroke="#a0a0a0" stroke-width="1.1" />
<rect x="524.71" y="434.35" width="2.90" height="0.35" fill="#1010ff" />
<line x1="46.00" y1="233.80" x2="46.00" y2="287.00" stroke="#000" stroke-width="2.2" />
<line x1="46.00" y1="295.60" x2="46.00" y2="435.80" stroke="#000" stroke-width="2.2" />
<line x1="42.50" y1="285.00" x2="49.20" y2="291.30" stroke="#000" stroke-width="1.8" />
<line x1="42.50" y1="291.30" x2="49.20" y2="297.40" stroke="#000" stroke-width="1.8" />
<line x1="40.80" y1="234.80" x2="46.00" y2="234.80" stroke="#000" stroke-width="2.0" />
<text transform="translate(38.00,239.80) scale(1,1.08)" font-family="Liberation Serif" font-size="14" font-weight="bold" text-anchor="end" fill="#000" >60</text>
<line x1="40.80" y1="276.00" x2="46.00" y2="276.00" stroke="#000" stroke-width="2.0" />
<text transform="translate(38.00,281.00) scale(1,1.08)" font-family="Liberation Serif" font-size="14" font-weight="bold" text-anchor="end" fill="#000" >20</text>
<line x1="40.80" y1="434.70" x2="46.00" y2="434.70" stroke="#000" stroke-width="2.0" />
<text transform="translate(38.20,439.70) scale(1,1.08)" font-family="Liberation Serif" font-size="14" font-weight="bold" text-anchor="end" fill="#000" >0</text>
<line x1="42.80" y1="417.25" x2="46.00" y2="417.25" stroke="#000" stroke-width="1.8" />
<line x1="40.80" y1="399.80" x2="46.00" y2="399.80" stroke="#000" stroke-width="2.0" />
<text transform="translate(38.20,404.80) scale(1,1.08)" font-family="Liberation Serif" font-size="14" font-weight="bold" text-anchor="end" fill="#000" >2</text>
<line x1="42.80" y1="382.35" x2="46.00" y2="382.35" stroke="#000" stroke-width="1.8" />
<line x1="40.80" y1="364.90" x2="46.00" y2="364.90" stroke="#000" stroke-width="2.0" />
<text transform="translate(38.20,369.90) scale(1,1.08)" font-family="Liberation Serif" font-size="14" font-weight="bold" text-anchor="end" fill="#000" >4</text>
<line x1="42.80" y1="347.45" x2="46.00" y2="347.45" stroke="#000" stroke-width="1.8" />
<line x1="40.80" y1="330.00" x2="46.00" y2="330.00" stroke="#000" stroke-width="2.0" />
<text transform="translate(38.20,335.00) scale(1,1.08)" font-family="Liberation Serif" font-size="14" font-weight="bold" text-anchor="end" fill="#000" >6</text>
<line x1="42.80" y1="312.55" x2="46.00" y2="312.55" stroke="#000" stroke-width="1.8" />
<text transform="translate(38.20,300.10) scale(1,1.08)" font-family="Liberation Serif" font-size="14" font-weight="bold" text-anchor="end" fill="#000" >8</text>
<line x1="40.60" y1="434.90" x2="541.00" y2="434.90" stroke="#000" stroke-width="2.4" />
<line x1="63.00" y1="434.90" x2="63.00" y2="440.60" stroke="#000" stroke-width="2.0" />
<text transform="translate(67.40,453.6) rotate(-45)" font-family="Liberation Serif" font-size="15" font-weight="bold" text-anchor="end">heart</text>
<line x1="98.34" y1="434.90" x2="98.34" y2="440.60" stroke="#000" stroke-width="2.0" />
<text transform="translate(102.74,453.6) rotate(-45)" font-family="Liberation Serif" font-size="15" font-weight="bold" text-anchor="end">liver</text>
<line x1="133.68" y1="434.90" x2="133.68" y2="440.60" stroke="#000" stroke-width="2.0" />
<text transform="translate(138.08,453.6) rotate(-45)" font-family="Liberation Serif" font-size="15" font-weight="bold" text-anchor="end">spleen</text>
<line x1="169.02" y1="434.90" x2="169.02" y2="440.60" stroke="#000" stroke-width="2.0" />
<text transform="translate(173.42,453.6) rotate(-45)" font-family="Liberation Serif" font-size="15" font-weight="bold" text-anchor="end">lung</text>
<line x1="204.36" y1="434.90" x2="204.36" y2="440.60" stroke="#000" stroke-width="2.0" />
<text transform="translate(208.76,453.6) rotate(-45)" font-family="Liberation Serif" font-size="15" font-weight="bold" text-anchor="end">kindey</text>
<line x1="239.70" y1="434.90" x2="239.70" y2="440.60" stroke="#000" stroke-width="2.0" />
<text transform="translate(244.10,453.6) rotate(-45)" font-family="Liberation Serif" font-size="15" font-weight="bold" text-anchor="end">thymus</text>
<line x1="275.04" y1="434.90" x2="275.04" y2="440.60" stroke="#000" stroke-width="2.0" />
<text transform="translate(279.44,453.6) rotate(-45)" font-family="Liberation Serif" font-size="15" font-weight="bold" text-anchor="end">pancreas</text>
<line x1="310.38" y1="434.90" x2="310.38" y2="440.60" stroke="#000" stroke-width="2.0" />
<text transform="translate(314.78,453.6) rotate(-45)" font-family="Liberation Serif" font-size="15" font-weight="bold" text-anchor="end">brain</text>
<line x1="345.72" y1="434.90" x2="345.72" y2="440.60" stroke="#000" stroke-width="2.0" />
<text transform="translate(350.12,453.6) rotate(-45)" font-family="Liberation Serif" font-size="15" font-weight="bold" text-anchor="end">stomach</text>
<line x1="381.06" y1="434.90" x2="381.06" y2="440.60" stroke="#000" stroke-width="2.0" />
<text transform="translate(385.46,453.6) rotate(-45)" font-family="Liberation Serif" font-size="15" font-weight="bold" text-anchor="end">duodenum</text>
<line x1="416.40" y1="434.90" x2="416.40" y2="440.60" stroke="#000" stroke-width="2.0" />
<text transform="translate(420.80,453.6) rotate(-45)" font-family="Liberation Serif" font-size="15" font-weight="bold" text-anchor="end">jejunum</text>
<line x1="451.74" y1="434.90" x2="451.74" y2="440.60" stroke="#000" stroke-width="2.0" />
<text transform="translate(456.14,453.6) rotate(-45)" font-family="Liberation Serif" font-size="15" font-weight="bold" text-anchor="end">ileum</text>
<line x1="487.08" y1="434.90" x2="487.08" y2="440.60" stroke="#000" stroke-width="2.0" />
<text transform="translate(491.48,453.6) rotate(-45)" font-family="Liberation Serif" font-size="15" font-weight="bold" text-anchor="end">cecum</text>
<line x1="522.42" y1="434.90" x2="522.42" y2="440.60" stroke="#000" stroke-width="2.0" />
<text transform="translate(526.82,453.6) rotate(-45)" font-family="Liberation Serif" font-size="15" font-weight="bold" text-anchor="end">colorectum</text>
<text transform="translate(16.3,338.0) rotate(-90)" font-family="Liberation Serif" font-size="16.2" font-weight="bold" text-anchor="middle" textLength="142.7" lengthAdjust="spacingAndGlyphs">Concentration (μg/g)</text>
<rect x="464" y="232.30" width="14.7" height="10" rx="1" fill="#148a14"/>
<text x="486.10" y="242.50" font-family="Liberation Serif" font-size="13.6" font-weight="bold" text-anchor="start" fill="#000" >10min</text>
<rect x="464" y="248.37" width="14.7" height="10" rx="1" fill="#ff8010"/>
<text x="486.10" y="258.57" font-family="Liberation Serif" font-size="13.6" font-weight="bold" text-anchor="start" fill="#000" >15min</text>
<rect x="464" y="264.44" width="14.7" height="10" rx="1" fill="#1aa8ff"/>
<text x="486.10" y="274.64" font-family="Liberation Serif" font-size="13.6" font-weight="bold" text-anchor="start" fill="#000" >30min</text>
<rect x="464" y="280.51" width="14.7" height="10" rx="1" fill="#ff1010"/>
<text x="486.10" y="290.71" font-family="Liberation Serif" font-size="13.6" font-weight="bold" text-anchor="start" fill="#000" >1h</text>
<rect x="464" y="296.58" width="14.7" height="10" rx="1" fill="#1a8598"/>
<text x="486.10" y="306.78" font-family="Liberation Serif" font-size="13.6" font-weight="bold" text-anchor="start" fill="#000" >2h</text>
<rect x="464" y="312.65" width="14.7" height="10" rx="1" fill="#1010ff"/>
<text x="486.10" y="322.85" font-family="Liberation Serif" font-size="13.6" font-weight="bold" text-anchor="start" fill="#000" >4h</text>
<rect x="464" y="328.72" width="14.7" height="10" rx="1" fill="#c810ee"/>
<text x="486.10" y="338.92" font-family="Liberation Serif" font-size="13.6" font-weight="bold" text-anchor="start" fill="#000" >8h</text>
<rect x="464" y="344.79" width="14.7" height="10" rx="1" fill="#de88aa"/>
<text x="486.10" y="354.99" font-family="Liberation Serif" font-size="13.6" font-weight="bold" text-anchor="start" fill="#000" >12h</text>
<rect x="464" y="360.86" width="14.7" height="10" rx="1" fill="#808080"/>
<text x="486.10" y="371.06" font-family="Liberation Serif" font-size="13.6" font-weight="bold" text-anchor="start" fill="#000" >24h</text>
<line x1="81.00" y1="524.40" x2="81.00" y2="594.20" stroke="#000" stroke-width="2.2" />
<line x1="81.00" y1="604.90" x2="81.00" y2="674.60" stroke="#000" stroke-width="2.2" />
<line x1="77.70" y1="592.00" x2="85.30" y2="598.80" stroke="#000" stroke-width="1.8" />
<line x1="77.70" y1="601.00" x2="85.30" y2="607.00" stroke="#000" stroke-width="1.8" />
<line x1="75.20" y1="580.20" x2="81.00" y2="580.20" stroke="#000" stroke-width="2.0" />
<text transform="translate(73.40,585.40) scale(1,1.14)" font-family="Liberation Serif" font-size="13.2" font-weight="bold" text-anchor="end" fill="#000" >60</text>
<line x1="75.20" y1="552.85" x2="81.00" y2="552.85" stroke="#000" stroke-width="2.0" />
<text transform="translate(73.40,558.05) scale(1,1.14)" font-family="Liberation Serif" font-size="13.2" font-weight="bold" text-anchor="end" fill="#000" >80</text>
<line x1="75.20" y1="525.50" x2="81.00" y2="525.50" stroke="#000" stroke-width="2.0" />
<text transform="translate(73.40,530.70) scale(1,1.14)" font-family="Liberation Serif" font-size="13.2" font-weight="bold" text-anchor="end" fill="#000" >100</text>
<line x1="75.20" y1="673.60" x2="81.00" y2="673.60" stroke="#000" stroke-width="2.0" />
<text transform="translate(73.40,678.80) scale(1,1.14)" font-family="Liberation Serif" font-size="13.2" font-weight="bold" text-anchor="end" fill="#000" >0</text>
<line x1="75.20" y1="646.30" x2="81.00" y2="646.30" stroke="#000" stroke-width="2.0" />
<text transform="translate(73.40,651.50) scale(1,1.14)" font-family="Liberation Serif" font-size="13.2" font-weight="bold" text-anchor="end" fill="#000" >2</text>
<line x1="75.20" y1="619.00" x2="81.00" y2="619.00" stroke="#000" stroke-width="2.0" />
<text transform="translate(73.40,624.20) scale(1,1.14)" font-family="Liberation Serif" font-size="13.2" font-weight="bold" text-anchor="end" fill="#000" >4</text>
<line x1="75.30" y1="673.90" x2="268.00" y2="673.90" stroke="#000" stroke-width="2.4" />
<line x1="136.60" y1="673.90" x2="136.60" y2="680.00" stroke="#000" stroke-width="2.0" />
<line x1="211.00" y1="673.90" x2="211.00" y2="680.00" stroke="#000" stroke-width="2.0" />
<text transform="translate(136.60,698.80) scale(1,1.08)" font-family="Liberation Serif" font-size="14" font-weight="bold" text-anchor="middle" fill="#000" >Urine</text>
<text transform="translate(211.40,698.80) scale(1,1.08)" font-family="Liberation Serif" font-size="14" font-weight="bold" text-anchor="middle" fill="#000" >Feces</text>
<text transform="translate(142.10,526.70) scale(1,1.08)" font-family="Liberation Serif" font-size="13.9" font-weight="bold" text-anchor="middle" fill="#000" >72.17±9.59%</text>
<text transform="translate(217.40,607.10) scale(1,1.08)" font-family="Liberation Serif" font-size="14.2" font-weight="bold" text-anchor="middle" fill="#000" >2.17±1.24%</text>
<text transform="translate(28.5,596.2) rotate(-90)" font-family="Liberation Serif" font-size="14.4" font-weight="bold" text-anchor="middle" textLength="128" lengthAdjust="spacingAndGlyphs">Cumulative excretion</text>
<text transform="translate(45.6,595.2) rotate(-90)" font-family="Liberation Serif" font-size="14" font-weight="bold" text-anchor="middle" textLength="55" lengthAdjust="spacingAndGlyphs">ratio (%)</text>
<rect x="119.8" y="553.6" width="34.6" height="22.0" fill="none" stroke="#1c1cff" stroke-width="1.8"/>
<line x1="119.80" y1="561.60" x2="154.40" y2="561.60" stroke="#1c1cff" stroke-width="1.8" />
<line x1="137.00" y1="544.80" x2="137.00" y2="553.60" stroke="#1c1cff" stroke-width="1.8" />
<line x1="137.00" y1="575.60" x2="137.00" y2="581.40" stroke="#1c1cff" stroke-width="1.8" />
<line x1="128.20" y1="544.80" x2="146.00" y2="544.80" stroke="#1c1cff" stroke-width="1.8" />
<line x1="128.20" y1="581.40" x2="146.00" y2="581.40" stroke="#1c1cff" stroke-width="1.8" />
<rect x="193.5" y="627.0" width="35.0" height="28.4" fill="none" stroke="#1c1cff" stroke-width="1.8"/>
<line x1="193.50" y1="654.40" x2="228.50" y2="654.40" stroke="#1c1cff" stroke-width="1.8" />
<line x1="211.00" y1="620.70" x2="211.00" y2="627.00" stroke="#1c1cff" stroke-width="1.8" />
<line x1="211.00" y1="655.40" x2="211.00" y2="658.00" stroke="#1c1cff" stroke-width="1.8" />
<line x1="202.40" y1="620.70" x2="219.80" y2="620.70" stroke="#1c1cff" stroke-width="1.8" />
<line x1="202.40" y1="658.00" x2="219.80" y2="658.00" stroke="#1c1cff" stroke-width="1.8" />
<line x1="342.20" y1="518.50" x2="342.20" y2="672.60" stroke="#000" stroke-width="2.4" />
<line x1="336.20" y1="671.50" x2="342.20" y2="671.50" stroke="#000" stroke-width="2.0" />
<text transform="translate(334.20,676.00) scale(1,1.08)" font-family="Liberation Serif" font-size="14.4" font-weight="bold" text-anchor="end" fill="#000" >0.0</text>
<line x1="336.20" y1="641.10" x2="342.20" y2="641.10" stroke="#000" stroke-width="2.0" />
<text transform="translate(334.20,645.60) scale(1,1.08)" font-family="Liberation Serif" font-size="14.4" font-weight="bold" text-anchor="end" fill="#000" >0.2</text>
<line x1="336.20" y1="610.70" x2="342.20" y2="610.70" stroke="#000" stroke-width="2.0" />
<text transform="translate(334.20,615.20) scale(1,1.08)" font-family="Liberation Serif" font-size="14.4" font-weight="bold" text-anchor="end" fill="#000" >0.4</text>
<line x1="336.20" y1="580.30" x2="342.20" y2="580.30" stroke="#000" stroke-width="2.0" />
<text transform="translate(334.20,584.80) scale(1,1.08)" font-family="Liberation Serif" font-size="14.4" font-weight="bold" text-anchor="end" fill="#000" >0.6</text>
<line x1="336.20" y1="549.90" x2="342.20" y2="549.90" stroke="#000" stroke-width="2.0" />
<text transform="translate(334.20,554.40) scale(1,1.08)" font-family="Liberation Serif" font-size="14.4" font-weight="bold" text-anchor="end" fill="#000" >0.8</text>
<line x1="336.20" y1="519.50" x2="342.20" y2="519.50" stroke="#000" stroke-width="2.0" />
<text transform="translate(334.20,524.00) scale(1,1.08)" font-family="Liberation Serif" font-size="14.4" font-weight="bold" text-anchor="end" fill="#000" >1.0</text>
<line x1="336.20" y1="671.60" x2="540.40" y2="671.60" stroke="#000" stroke-width="2.4" />
<text transform="translate(308.2,593.4) rotate(-90)" font-family="Liberation Serif" font-size="16.8" font-weight="bold" text-anchor="middle" textLength="147.6" lengthAdjust="spacingAndGlyphs">Concentration (μg/g)</text>
<rect x="358.40" y="566.62" width="28.8" height="104.88" fill="#fff" stroke="#000" stroke-width="2.2"/>
<line x1="372.80" y1="550.66" x2="372.80" y2="566.62" stroke="#1a8a1a" stroke-width="2.0" />
<line x1="365.40" y1="550.66" x2="380.20" y2="550.66" stroke="#1a8a1a" stroke-width="2.0" />
<line x1="372.80" y1="671.60" x2="372.80" y2="677.30" stroke="#000" stroke-width="2.0" />
<text transform="translate(372.80,692.80) scale(1,1.08)" font-family="Liberation Serif" font-size="13.6" font-weight="bold" text-anchor="middle" fill="#000" >3</text>
<rect x="403.80" y="604.62" width="28.8" height="66.88" fill="#fff" stroke="#000" stroke-width="2.2"/>
<line x1="418.20" y1="583.34" x2="418.20" y2="604.62" stroke="#1a8a1a" stroke-width="2.0" />
<line x1="410.80" y1="583.34" x2="425.60" y2="583.34" stroke="#1a8a1a" stroke-width="2.0" />
<line x1="418.20" y1="671.60" x2="418.20" y2="677.30" stroke="#000" stroke-width="2.0" />
<text transform="translate(418.20,692.80) scale(1,1.08)" font-family="Liberation Serif" font-size="13.6" font-weight="bold" text-anchor="middle" fill="#000" >7</text>
<rect x="449.40" y="639.58" width="28.8" height="31.92" fill="#fff" stroke="#000" stroke-width="2.2"/>
<line x1="463.80" y1="619.82" x2="463.80" y2="639.58" stroke="#1a8a1a" stroke-width="2.0" />
<line x1="456.40" y1="619.82" x2="471.20" y2="619.82" stroke="#1a8a1a" stroke-width="2.0" />
<line x1="463.80" y1="671.60" x2="463.80" y2="677.30" stroke="#000" stroke-width="2.0" />
<text transform="translate(463.80,692.80) scale(1,1.08)" font-family="Liberation Serif" font-size="13.6" font-weight="bold" text-anchor="middle" fill="#000" >14</text>
<rect x="494.90" y="661.92" width="28.8" height="9.58" fill="#fff" stroke="#000" stroke-width="2.2"/>
<line x1="509.30" y1="653.26" x2="509.30" y2="661.92" stroke="#1a8a1a" stroke-width="2.0" />
<line x1="501.90" y1="653.26" x2="516.70" y2="653.26" stroke="#1a8a1a" stroke-width="2.0" />
<line x1="509.30" y1="671.60" x2="509.30" y2="677.30" stroke="#000" stroke-width="2.0" />
<text transform="translate(509.30,692.80) scale(1,1.08)" font-family="Liberation Serif" font-size="13.6" font-weight="bold" text-anchor="middle" fill="#000" >28</text>
<text transform="translate(525.60,692.80) scale(1,1.08)" font-family="Liberation Serif" font-size="13.6" font-weight="bold" text-anchor="middle" fill="#000" >d</text>
<circle cx="360.8" cy="551.8" r="2.9" fill="none" stroke="#f23a3a" stroke-width="1.8"/>
<circle cx="372.8" cy="547.8" r="2.9" fill="none" stroke="#f23a3a" stroke-width="1.8"/>
<circle cx="360.8" cy="563.8" r="2.9" fill="none" stroke="#f23a3a" stroke-width="1.8"/>
<circle cx="372.8" cy="568.1" r="2.9" fill="none" stroke="#f23a3a" stroke-width="1.8"/>
<circle cx="372.8" cy="576.2" r="2.9" fill="none" stroke="#f23a3a" stroke-width="1.8"/>
<circle cx="372.8" cy="589.3" r="2.9" fill="none" stroke="#f23a3a" stroke-width="1.8"/>
<circle cx="418.2" cy="568.4" r="2.9" fill="none" stroke="#f23a3a" stroke-width="1.8"/>
<circle cx="418.2" cy="603.8" r="2.9" fill="none" stroke="#f23a3a" stroke-width="1.8"/>
<circle cx="418.2" cy="612.2" r="2.9" fill="none" stroke="#f23a3a" stroke-width="1.8"/>
<circle cx="430.5" cy="609.4" r="2.9" fill="none" stroke="#f23a3a" stroke-width="1.8"/>
<circle cx="418.2" cy="628.1" r="2.9" fill="none" stroke="#f23a3a" stroke-width="1.8"/>
<circle cx="463.6" cy="600.5" r="2.9" fill="none" stroke="#f23a3a" stroke-width="1.8"/>
<circle cx="451.8" cy="640.9" r="2.9" fill="none" stroke="#f23a3a" stroke-width="1.8"/>
<circle cx="463.6" cy="646.0" r="2.9" fill="none" stroke="#f23a3a" stroke-width="1.8"/>
<circle cx="476.0" cy="642.4" r="2.9" fill="none" stroke="#f23a3a" stroke-width="1.8"/>
<circle cx="451.8" cy="651.8" r="2.9" fill="none" stroke="#f23a3a" stroke-width="1.8"/>
<circle cx="476.0" cy="651.8" r="2.9" fill="none" stroke="#f23a3a" stroke-width="1.8"/>
<circle cx="509.3" cy="644.6" r="2.9" fill="none" stroke="#f23a3a" stroke-width="1.8"/>
<circle cx="496.5" cy="666.3" r="2.9" fill="none" stroke="#f23a3a" stroke-width="1.8"/>
<circle cx="502.9" cy="661.2" r="2.9" fill="none" stroke="#f23a3a" stroke-width="1.8"/>
<circle cx="509.3" cy="665.6" r="2.9" fill="none" stroke="#f23a3a" stroke-width="1.8"/>
<circle cx="515.6" cy="662.8" r="2.9" fill="none" stroke="#f23a3a" stroke-width="1.8"/>
<circle cx="521.3" cy="666.3" r="2.9" fill="none" stroke="#f23a3a" stroke-width="1.8"/>
</svg>
</body></html>
